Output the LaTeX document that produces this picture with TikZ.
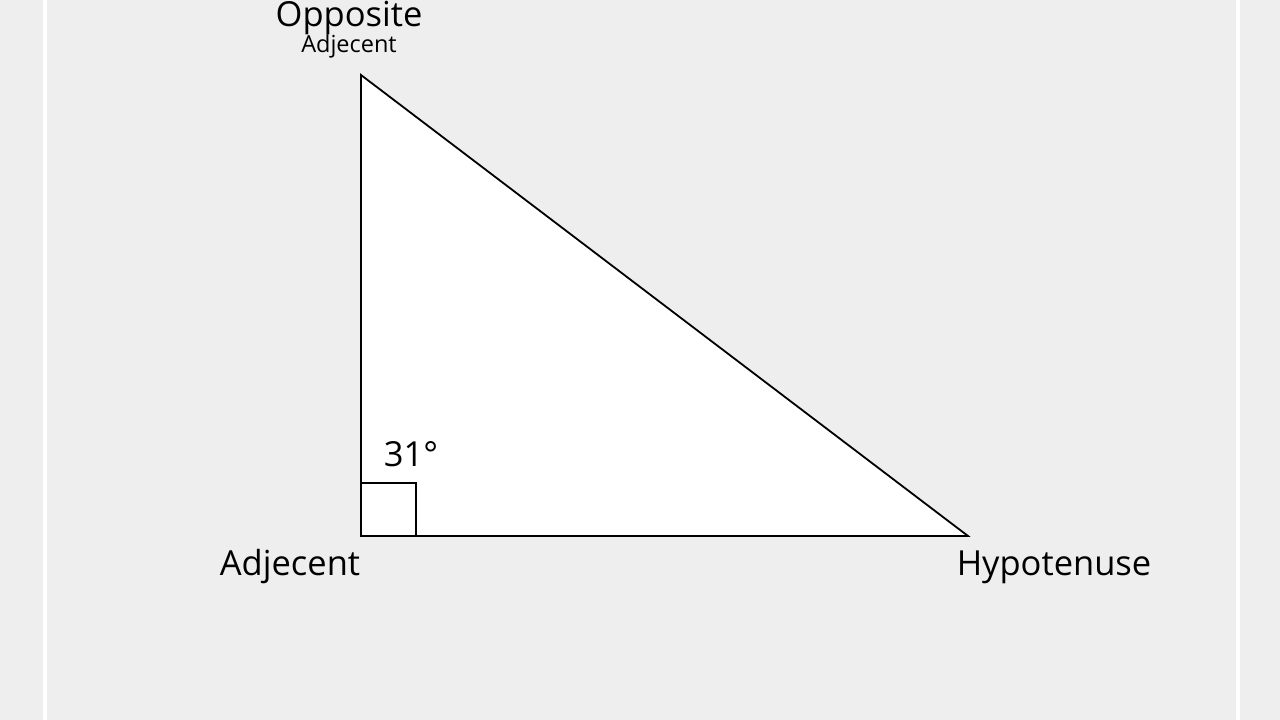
\documentclass[tikz,border=0pt]{standalone}
\usepackage{fontspec}
\setmainfont{Open Sans}
\usepackage{tikz}

\begin{document}
\begin{tikzpicture}[x=1pt,y=-1pt,
    lbl/.style={anchor=base,inner sep=0pt,font=\fontsize{34.5}{36}\selectfont},
    smalllbl/.style={anchor=base,inner sep=0pt,font=\fontsize{23.5}{25}\selectfont}]

    \fill[gray!13] (0,0) rectangle (1280,720);
    \useasboundingbox (0,0) rectangle (1280,720);
    \fill[white] (43,0) rectangle (46.5,720);
    \fill[white] (1236,0) rectangle (1239.5,720);

    \coordinate (top)   at (361, 75);
    \coordinate (right) at (361, 536);
    \coordinate (end)   at (968, 536);

    \filldraw[fill=white,draw=black,line width=1.8pt,line join=miter] (top) -- (right) -- (end) -- cycle;
    \draw[line width=1.4pt] (right) ++(0,-53) -| ++(55,53);

    \node[lbl]      (opp)  at (349, 26)  {Opposite};
    \node[smalllbl] (adj2) at (349, 52)  {Adjecent};
    \node[lbl]      (ang)  at (411, 466) {31°};
    \node[lbl]      (adj)  at (290, 575) {Adjecent};
    \node[lbl]      (hyp)  at (1054, 575) {Hypotenuse};
  \end{tikzpicture}
\end{document}
